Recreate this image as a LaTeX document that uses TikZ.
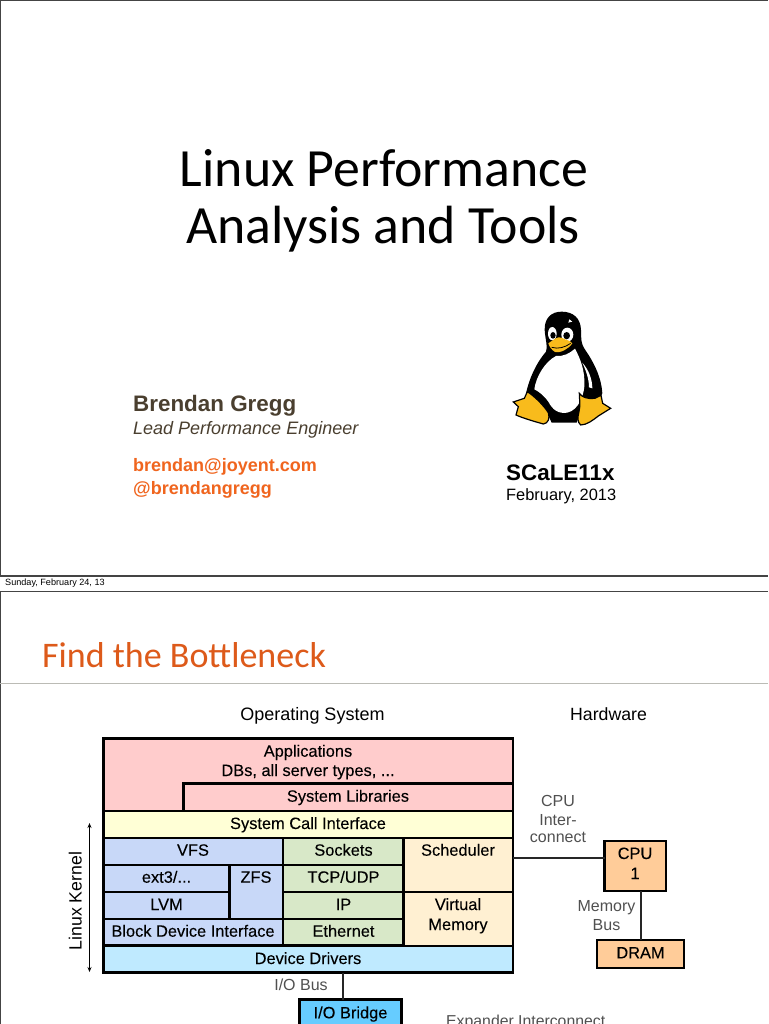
\documentclass[tikz,border=0pt]{standalone}
\usepackage{fontspec}
\setmainfont{Liberation Sans}
\newfontfamily\gill{Carlito}
\newfontfamily\cellf[FakeBold=0.12]{Liberation Sans}
\usetikzlibrary{arrows.meta}
\definecolor{framec}{HTML}{444444}
\definecolor{rulec}{HTML}{BBBBB5}
\definecolor{orangeT}{HTML}{DD5A1A}
\definecolor{orangeM}{HTML}{F0651E}
\definecolor{nameC}{HTML}{4A3F2F}
\definecolor{labelC}{HTML}{505050}
\definecolor{pinkC}{HTML}{FFCCCC}
\definecolor{yellowC}{HTML}{FFFFD6}
\definecolor{blueC}{HTML}{C8D8F8}
\definecolor{greenC}{HTML}{D8E8C8}
\definecolor{peachC}{HTML}{FFF0D2}
\definecolor{ddC}{HTML}{BFEAFF}
\definecolor{ioC}{HTML}{66CCFF}
\definecolor{cpuC}{HTML}{FFCC99}
\definecolor{tuxY}{HTML}{F8BB1C}
\tikzset{
  x=1pt,y=-1pt,
  cell/.style={draw=black,line width=2.1pt,inner sep=0pt,outer sep=0pt},
  cellt/.style={anchor=base,font=\cellf\fontsize{16.4}{18}\selectfont,text=black,inner sep=0pt},
  grayt/.style={anchor=base,font=\fontsize{16}{19}\selectfont,text=labelC,inner sep=0pt},
  head/.style={anchor=base,font=\fontsize{18}{20}\selectfont,text=black,inner sep=0pt},
  wire/.style={draw=black!85,line width=1.6pt},
  titlet/.style={anchor=base,font=\gill\fontsize{53.8}{58}\selectfont,text=black,inner sep=0pt},
  leftt/.style={anchor=base west,inner sep=0pt},
}
\newcommand{\bx}[6]{%
  \pgfmathsetlengthmacro{\bw}{(#4)-(#2)}%
  \pgfmathsetlengthmacro{\bh}{(#5)-(#3)}%
  \node[cell,fill=#6,minimum width=\bw,minimum height=\bh] (#1) at ({((#2)+(#4))/2},{((#3)+(#5))/2}) {};}
\begin{document}
\begin{tikzpicture}
\useasboundingbox (0,0) rectangle (768,1024);
\fill[white] (0,0) rectangle (768,1024);
\clip (0,0) rectangle (768,1024);
% slide frames
\draw[framec,line width=1.3pt] (0.5,576) -- (0.5,0.5) -- (768,0.5);
\draw[framec,line width=1.3pt] (0,576) -- (768,576);
\draw[framec,line width=1.3pt] (768,591.5) -- (0.5,591.5) -- (0.5,1024);
\node[leftt,font=\fontsize{9.1}{11}\selectfont] (foot) at (5,585) {Sunday, February 24, 13};
% title slide
\node[titlet] (t1) at (384,187) {Linux Performance};
\node[titlet] (t2) at (383,243.5) {Analysis and Tools};
\node[leftt,text=nameC,font=\bfseries\fontsize{22.4}{24}\selectfont] (who) at (133,411.7) {Brendan Gregg};
\node[leftt,text=nameC,font=\itshape\fontsize{18}{22}\selectfont] (role) at (133,434.5) {Lead Performance Engineer};
\node[leftt,text=orangeM,font=\bfseries\fontsize{18}{22}\selectfont] (mail) at (133,471) {brendan@joyent.com};
\node[leftt,text=orangeM,font=\bfseries\fontsize{18}{22}\selectfont] (tw) at (133,494.3) {@brendangregg};
\node[leftt,font=\bfseries\fontsize{22.4}{24}\selectfont] (conf) at (506,480.5) {SCaLE11x};
\node[leftt,font=\fontsize{16.4}{18}\selectfont] (date) at (506,500.5) {February, 2013};
% Tux
\begin{scope}[shift={(480,290)},x=0.3333pt,y=-0.3333pt]
\fill[black] (245,65) .. controls (280,65) and (302,85) .. (303,120)
  .. controls (304,150) and (302,160) .. (316,180)
  .. controls (340,215) and (364,260) .. (367,310)
  -- (350,345) -- (300,370) -- (290,398) -- (215,398) -- (195,355)
  -- (138,310) .. controls (148,265) and (168,220) .. (198,185)
  .. controls (204,170) and (196,150) .. (194,120)
  .. controls (193,85) and (213,65) .. (245,65) -- cycle;
\fill[white] (228,198) .. controls (250,200) and (270,190) .. (285,176)
  .. controls (300,205) and (316,240) .. (313,290)
  .. controls (310,320) and (295,360) .. (262,368)
  .. controls (235,372) and (218,360) .. (205,335)
  .. controls (195,320) and (178,305) .. (163,298)
  .. controls (168,260) and (195,215) .. (228,198) -- cycle;
\fill[white] (307,218) .. controls (327,240) and (337,270) .. (337,295) -- (327,292) .. controls (327,265) and (317,240) .. (307,218) -- cycle;
% eyes
\fill[white] (217,131) ellipse [x radius=13,y radius=20];
\fill[white] (262,134) ellipse [x radius=18,y radius=21];
\fill[black] (219,136) ellipse [x radius=8,y radius=10];
\fill[black] (260,137) ellipse [x radius=10,y radius=11];
\fill[white] (268,88) -- (277,95) -- (265,98) -- cycle;
% beak
\fill[tuxY] (205,160) .. controls (220,150) and (232,138) .. (245,143)
  .. controls (255,150) and (270,150) .. (277,160)
  .. controls (265,178) and (240,190) .. (225,186)
  .. controls (215,180) and (208,170) .. (205,160) -- cycle;
\draw[black,line width=0.8pt] (215,172) .. controls (235,178) and (255,172) .. (272,160);
% feet
\filldraw[fill=tuxY,draw=black,line width=1.2pt] (142,305) .. controls (165,320) and (190,345) .. (205,368)
  .. controls (210,385) and (205,400) .. (190,402)
  .. controls (165,395) and (130,385) .. (108,375)
  -- (115,350) -- (100,336) -- (133,325) -- cycle;
\filldraw[fill=tuxY,draw=black,line width=1.2pt] (298,310) .. controls (305,322) and (325,328) .. (345,325)
  -- (363,316) -- (368,340) -- (392,355) -- (355,378)
  .. controls (340,390) and (320,405) .. (302,405)
  .. controls (292,395) and (292,385) .. (297,365)
  .. controls (302,345) and (298,325) .. (298,310) -- cycle;
\end{scope}
% second slide
\node[leftt,text=orangeT,font=\gill\fontsize{36}{40}\selectfont] (h2) at (42,667.3) {Find the Bottleneck};
\draw[rulec,line width=1.6pt] (0,683.5) -- (768,683.5);
\node[head] (os) at (312.5,720) {Operating System};
\node[head,font=\fontsize{17.7}{20}\selectfont] (hw) at (608.5,720) {Hardware};
% stack
\bx{apps}{103.5}{738.5}{513}{811}{pinkC}
\bx{libs}{183.5}{783.5}{513}{811}{pinkC}
\bx{sci}{103.5}{811}{513}{838}{yellowC}
\bx{vfs}{103.5}{838}{283}{865}{blueC}
\bx{ext}{103.5}{865}{229.5}{892}{blueC}
\bx{lvm}{103.5}{892}{229.5}{919}{blueC}
\bx{zfs}{229.5}{865}{283}{919}{blueC}
\bx{bdi}{103.5}{919}{283}{945.5}{blueC}
\bx{sock}{283}{838}{403.5}{865}{greenC}
\bx{tcp}{283}{865}{403.5}{892}{greenC}
\bx{ip}{283}{892}{403.5}{919}{greenC}
\bx{eth}{283}{919}{403.5}{945.5}{greenC}
\bx{sched}{403.5}{838}{513}{892}{peachC}
\bx{vm}{403.5}{892}{513}{946}{peachC}
\bx{dd}{103.5}{946}{513}{972.5}{ddC}
\bx{bridge}{299.5}{999.5}{401.5}{1040}{ioC}
\bx{cpu}{604.5}{841}{666}{891}{cpuC}
\bx{dram}{597}{940}{684}{968}{cpuC}
\node[cellt] (appsT) at (308,756.7) {Applications};
\node[cellt] (appsU) at (308,776) {DBs, all server types, ...};
\node[cellt] (libsT) at (348,801.7) {System Libraries};
\node[cellt] (sciT) at (308,829) {System Call Interface};
\node[cellt] (vfsT) at (193,855.7) {VFS};
\node[cellt] (extT) at (166.5,882.7) {ext3/...};
\node[cellt] (zfsT) at (256,882.7) {ZFS};
\node[cellt] (lvmT) at (166.5,910) {LVM};
\node[cellt] (bdiT) at (193,936.7) {Block Device Interface};
\node[cellt] (sockT) at (343.5,855.7) {Sockets};
\node[cellt] (tcpT) at (343.5,882.7) {TCP/UDP};
\node[cellt] (ipT) at (343.5,910) {IP};
\node[cellt] (ethT) at (343.5,936.7) {Ethernet};
\node[cellt] (schedT) at (458,855.7) {Scheduler};
\node[cellt] (vmT) at (458,910) {Virtual};
\node[cellt] (vmU) at (458,930) {Memory};
\node[cellt] (ddT) at (308,964) {Device Drivers};
\node[cellt] (brT) at (350.5,1018.3) {I/O Bridge};
\node[cellt] (cpuT) at (635,859) {CPU};
\node[cellt] (cpuU) at (635,879) {1};
\node[cellt] (dramT) at (640.5,958.3) {DRAM};
% connectors
\coordinate (busTop) at (dd.south -| 342.7,0);
\coordinate (busBot) at (bridge.north -| 342.7,0);
\draw[wire] (busTop) -- (busBot);
\coordinate (ciL) at (513,857.7);
\draw[wire] (ciL) -- (cpu.west |- ciL);
\coordinate (mbT) at (cpu.south -| 641,0);
\coordinate (mbB) at (dram.north -| 641,0);
\draw[wire] (mbT) -- (mbB);
\node[grayt] (ioL) at (301,990) {I/O Bus};
\node[grayt] (ciA) at (558,806) {CPU};
\node[grayt] (ciB) at (558,825) {Inter-};
\node[grayt] (ciC) at (558,842.7) {connect};
\node[grayt] (mbA) at (606.5,911) {Memory};
\node[grayt] (mbC) at (606.5,930) {Bus};
\node[grayt,anchor=base west,font=\fontsize{15.8}{18}\selectfont] (exp) at (446,1026.5) {Expander Interconnect};
% kernel bracket
\node[inner sep=0pt,rotate=90,anchor=base,font=\fontsize{17.7}{20}\selectfont] (lk) at (81.7,901) {Linux Kernel};
\coordinate (kT) at (89.5,823);
\coordinate (kB) at (89.5,972);
\draw[black,line width=0.8pt,{Stealth[length=5pt,width=4pt]}-{Stealth[length=5pt,width=4pt]}] (kT) -- (kB);
\end{tikzpicture}
\end{document}
